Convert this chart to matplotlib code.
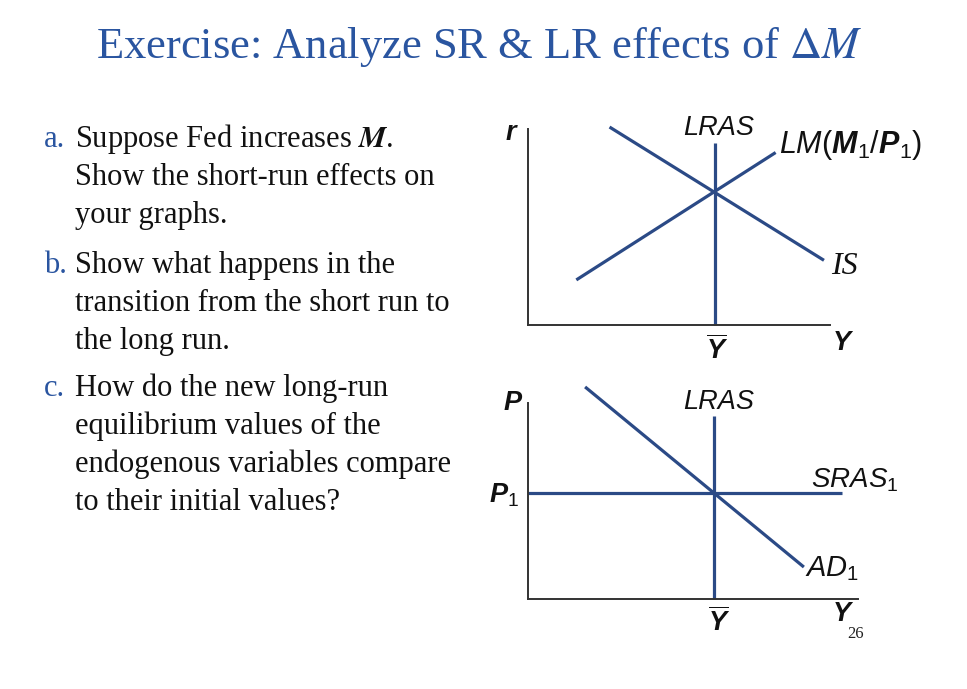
import numpy as np
import matplotlib.pyplot as plt

plt.rcParams['mathtext.fontset'] = 'custom'
plt.rcParams['mathtext.rm'] = 'Liberation Sans'
plt.rcParams['mathtext.it'] = 'Liberation Sans:italic'
plt.rcParams['mathtext.bf'] = 'Liberation Sans:italic:bold'

# ---- data (schematic curves, axis units 0..10) ----
# top graph: IS-LM
lras_top_x = [6.19, 6.19]
lras_top_y = [0.0, 9.29]
is_x = [2.7, 9.8]
is_y = [10.1, 3.3]
lm_x = [1.6, 8.2]
lm_y = [2.3, 8.8]

# bottom graph: AD-AS
lras_bot_x = [5.64, 5.64]
lras_bot_y = [0.0, 9.34]
sras_x = [0.0, 9.52]
sras_y = [5.41, 5.41]
ad_x = [1.73, 8.36]
ad_y = [10.82, 1.63]

title = "Exercise: Analyze SR & LR effects of $\\Delta M$"
items = [
    ("a.", ["Suppose Fed increases $\\mathbfit{M}$.",
            "Show the short-run effects on",
            "your graphs."]),
    ("b.", ["Show what happens in the",
            "transition from the short run to",
            "the long run."]),
    ("c.", ["How do the new long-run",
            "equilibrium values of the",
            "endogenous variables compare",
            "to their initial values?"]),
]

BLUE = "#2a55a0"
LINE = "#2b4a86"
AXC = "#333333"

fig = plt.figure(figsize=(9.67, 6.89), dpi=100)
bg = fig.add_axes([0, 0, 1, 1])
bg.set_xlim(0, 967)
bg.set_ylim(689, 0)
bg.axis("off")

W, H = 967, 689

def diagram(left, right, top, bottom):
    ax = fig.add_axes([left / W, (H - bottom) / H, (right - left) / W, (bottom - top) / H])
    ax.set_xlim(0, 10)
    ax.set_ylim(0, 10)
    ax.patch.set_alpha(0)
    for s in ["top", "right"]:
        ax.spines[s].set_visible(False)
    for s in ["left", "bottom"]:
        ax.spines[s].set_color(AXC)
        ax.spines[s].set_linewidth(1.4)
    ax.set_xticks([])
    ax.set_yticks([])
    return ax

# ---- title ----
bg.text(479, 58, title, color=BLUE, family="Liberation Serif", fontsize=32,
        ha="center", va="baseline", math_fontfamily="stix")

# ---- exercise text ----
starts = [147, 273, 396]
for (lab, lines), y0 in zip(items, starts):
    bg.text(44, y0, lab, color=BLUE, family="Liberation Serif", fontsize=22, va="baseline")
    for i, ln in enumerate(lines):
        bg.text(75, y0 + i * 38, ln, color="#111111", family="Liberation Serif",
                fontsize=22, va="baseline", math_fontfamily="stix")

# ---- top graph ----
ax1 = diagram(528, 830, 129, 325)
kw = dict(color=LINE, lw=2.3, solid_capstyle="butt", clip_on=False)
ax1.plot(lras_top_x, lras_top_y, **kw)
ax1.plot(is_x, is_y, **kw)
ax1.plot(lm_x, lm_y, **kw)

lab = dict(family="Liberation Sans", fontsize=19.5, color="#111111")
bg.text(512, 133, "$\\mathbf{r}$", ha="center", va="center", **lab)
bg.text(719, 128, "LRAS", style="italic", ha="center", va="center", **lab)
bg.text(779, 145, "$LM(\\mathbf{M}_\\mathrm{1}/\\mathbf{P}_\\mathrm{1})$", ha="left", va="center",
        family="Liberation Sans", fontsize=22, color="#111111")
bg.text(831, 266, "IS", family="Liberation Serif", style="italic", fontsize=23,
        color="#111111", ha="left", va="center")
bg.text(843, 343, "$\\mathbf{Y}$", ha="center", va="center", **lab)
bg.text(717, 350, "$\\overline{\\mathbf{Y}}$", ha="center", va="center", **lab)

# ---- bottom graph ----
ax2 = diagram(528, 858, 403, 599)
ax2.plot(lras_bot_x, lras_bot_y, **kw)
ax2.plot(sras_x, sras_y, **kw)
ax2.plot(ad_x, ad_y, **kw)

bg.text(513, 403, "$\\mathbf{P}$", ha="center", va="center", **lab)
bg.text(719, 402, "LRAS", style="italic", ha="center", va="center", **lab)
bg.text(504, 495, "$\\mathbf{P}_\\mathrm{1}$", ha="center", va="center", **lab)
bg.text(811, 487, "$SRAS_\\mathrm{1}$", ha="left", va="baseline",
        family="Liberation Sans", fontsize=20, color="#111111")
bg.text(805, 576, "$AD_\\mathrm{1}$", ha="left", va="baseline",
        family="Liberation Sans", fontsize=21, color="#111111")
bg.text(719, 622, "$\\overline{\\mathbf{Y}}$", ha="center", va="center", **lab)
bg.text(843, 614, "$\\mathbf{Y}$", ha="center", va="center", **lab)
bg.text(856, 638, "26", family="Liberation Serif", fontsize=12, color="#222222",
        ha="center", va="baseline")

fig.savefig("out.png", dpi=100)
